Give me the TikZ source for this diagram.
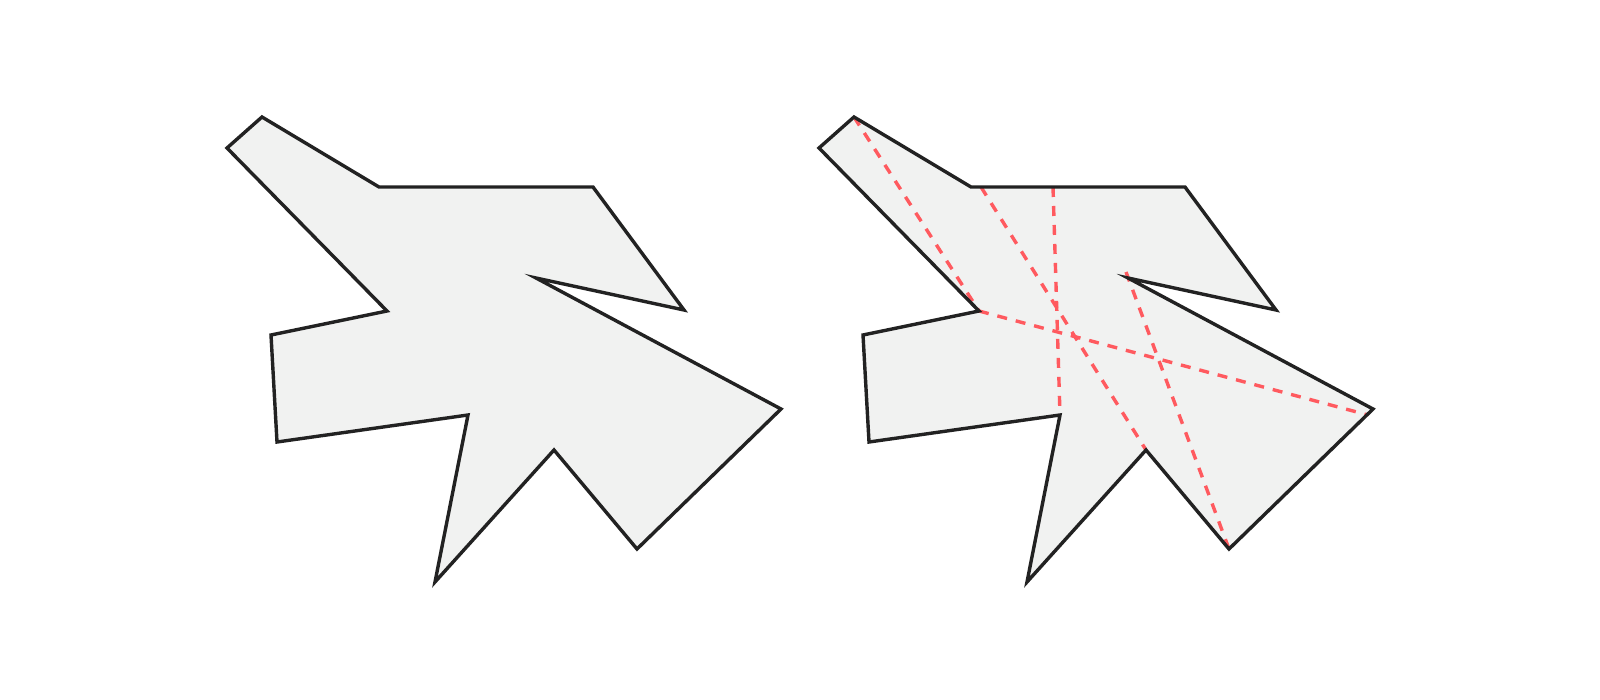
\documentclass[tikz,border=0pt]{standalone}
\begin{document}
\begin{tikzpicture}[x=1pt,y=-1pt]
\definecolor{polyfill}{HTML}{F1F2F1}
\definecolor{chordred}{HTML}{FF5A5F}
\definecolor{edge}{HTML}{222222}
\tikzset{
  polyedge/.style={draw=edge,line width=3.4pt,miter limit=10},
  chord/.style={draw=chordred,line width=3.4pt,dash pattern=on 10pt off 9pt}}
\useasboundingbox[fill=white] (0,0) rectangle (1600,700);
\foreach \s/\p in {0/L,592/R}{
  \begin{scope}[xshift=\s pt]
  \coordinate (\p A) at (262,117);
  \coordinate (\p B) at (379,187);
  \coordinate (\p C) at (593,187);
  \coordinate (\p D) at (684,310);
  \coordinate (\p E) at (536,278);
  \coordinate (\p F) at (781,409);
  \coordinate (\p G) at (637,549);
  \coordinate (\p H) at (554,450);
  \coordinate (\p I) at (435,582);
  \coordinate (\p J) at (468,415);
  \coordinate (\p K) at (277,442);
  \coordinate (\p L) at (271,335);
  \coordinate (\p M) at (387,311);
  \coordinate (\p N) at (227,148);
  \end{scope}
}
\foreach \p in {L,R}{
  \fill[polyfill] (\p A)--(\p B)--(\p C)--(\p D)--(\p E)--(\p F)--(\p G)--(\p H)--(\p I)--(\p J)--(\p K)--(\p L)--(\p M)--(\p N)--cycle;
}
\coordinate (c3) at (981,187);
\coordinate (c4) at (1053,187);
\coordinate (c5) at (1126,272);
\coordinate (c2) at (1368,415);
\draw[chord] (RA) -- (RM);
\draw[chord] (RM) -- (c2);
\draw[chord] (c3) -- (RH);
\draw[chord] (c4) -- (RJ);
\draw[chord] (c5) -- (RG);
\foreach \p in {L,R}{
  \draw[polyedge] (\p A)--(\p B)--(\p C)--(\p D)--(\p E)--(\p F)--(\p G)--(\p H)--(\p I)--(\p J)--(\p K)--(\p L)--(\p M)--(\p N)--cycle;
}
\end{tikzpicture}
\end{document}
